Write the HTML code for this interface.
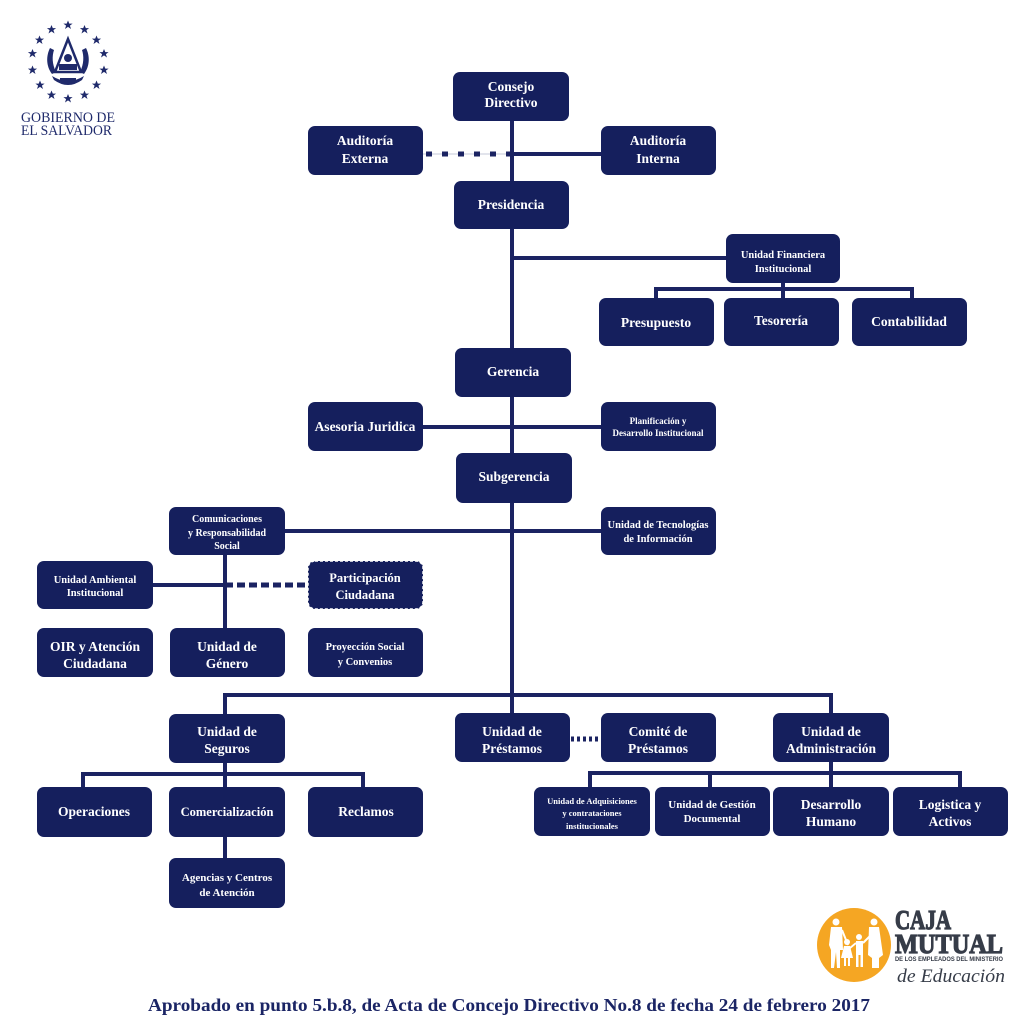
<!DOCTYPE html>
<html><head><meta charset="utf-8"><style>
html,body{margin:0;padding:0;background:#fff;}
svg{display:block;}
.t{font-family:"Liberation Serif",serif;font-weight:bold;fill:#fff;text-anchor:middle;}
</style></head><body>
<svg width="1024" height="1024" viewBox="0 0 1024 1024" xmlns="http://www.w3.org/2000/svg">
<rect width="1024" height="1024" fill="#fff"/>

<!-- connectors -->
<g stroke="#1b2362" stroke-width="4" fill="none">
  <line x1="512" y1="121" x2="512" y2="715"/>
  <line x1="512" y1="154" x2="601" y2="154"/>
  <line x1="512" y1="258" x2="726" y2="258"/>
  <polyline points="656,298 656,289 912,289 912,298"/>
  <line x1="783" y1="283" x2="783" y2="298"/>
  <line x1="423" y1="427" x2="601" y2="427"/>
  <line x1="285" y1="531" x2="601" y2="531"/>
  <line x1="225" y1="555" x2="225" y2="628"/>
  <line x1="153" y1="585" x2="225" y2="585"/>
  <polyline points="225,714 225,695 831,695 831,713"/>
  <line x1="225" y1="763" x2="225" y2="787"/>
  <polyline points="83,787 83,774 363,774 363,787"/>
  <line x1="225" y1="836" x2="225" y2="858"/>
  <line x1="831" y1="762" x2="831" y2="787"/>
  <polyline points="590,787 590,773 960,773 960,787"/>
  <line x1="710" y1="773" x2="710" y2="787"/>
</g>
<line x1="423" y1="154" x2="512" y2="154" stroke="#c5c8da" stroke-width="1"/>
<line x1="426" y1="154" x2="512" y2="154" stroke="#1b2362" stroke-width="5" stroke-dasharray="6 10"/>
<line x1="225" y1="585" x2="308" y2="585" stroke="#1b2362" stroke-width="5" stroke-dasharray="8 4"/>
<line x1="571" y1="739" x2="601" y2="739" stroke="#1b2362" stroke-width="5" stroke-dasharray="3 3"/>

<!-- boxes -->
<g fill="#151f5d">
  <rect x="453" y="72" width="116" height="49" rx="7"/>
  <rect x="308" y="126" width="115" height="49" rx="7"/>
  <rect x="601" y="126" width="115" height="49" rx="7"/>
  <rect x="454" y="181" width="115" height="48" rx="7"/>
  <rect x="726" y="234" width="114" height="49" rx="7"/>
  <rect x="599" y="298" width="115" height="48" rx="7"/>
  <rect x="724" y="298" width="115" height="48" rx="7"/>
  <rect x="852" y="298" width="115" height="48" rx="7"/>
  <rect x="455" y="348" width="116" height="49" rx="7"/>
  <rect x="308" y="402" width="115" height="49" rx="7"/>
  <rect x="601" y="402" width="115" height="49" rx="7"/>
  <rect x="456" y="453" width="116" height="50" rx="7"/>
  <rect x="169" y="507" width="116" height="48" rx="7"/>
  <rect x="601" y="507" width="115" height="48" rx="7"/>
  <rect x="37" y="561" width="116" height="48" rx="7"/>
  <rect x="308" y="561" width="115" height="48" rx="7"/>
  <rect x="37" y="628" width="116" height="49" rx="7"/>
  <rect x="170" y="628" width="115" height="49" rx="7"/>
  <rect x="308" y="628" width="115" height="49" rx="7"/>
  <rect x="169" y="714" width="116" height="49" rx="7"/>
  <rect x="455" y="713" width="115" height="49" rx="7"/>
  <rect x="601" y="713" width="115" height="49" rx="7"/>
  <rect x="773" y="713" width="116" height="49" rx="7"/>
  <rect x="37" y="787" width="115" height="50" rx="7"/>
  <rect x="169" y="787" width="116" height="50" rx="7"/>
  <rect x="308" y="787" width="115" height="50" rx="7"/>
  <rect x="169" y="858" width="116" height="50" rx="7"/>
  <rect x="534" y="787" width="116" height="49" rx="7"/>
  <rect x="655" y="787" width="115" height="49" rx="7"/>
  <rect x="773" y="787" width="116" height="49" rx="7"/>
  <rect x="893" y="787" width="115" height="49" rx="7"/>
</g>
<rect x="308" y="561" width="115" height="48" rx="7" fill="none" stroke="#fff" stroke-width="1.5" stroke-dasharray="3 2"/>

<!-- labels -->
<g class="t" font-size="13.5">
  <text x="511" y="91">Consejo</text><text x="511" y="107">Directivo</text>
  <text x="365" y="145">Auditoría</text><text x="365" y="163">Externa</text>
  <text x="658" y="145">Auditoría</text><text x="658" y="163">Interna</text>
  <text x="511" y="209">Presidencia</text>
  <text x="656" y="327">Presupuesto</text>
  <text x="781" y="325">Tesorería</text>
  <text x="909" y="326">Contabilidad</text>
  <text x="513" y="376">Gerencia</text>
  <text x="365" y="431">Asesoria Juridica</text>
  <text x="514" y="481">Subgerencia</text>
  <text x="95" y="651">OIR y Atención</text><text x="95" y="668">Ciudadana</text>
  <text x="227" y="651">Unidad de</text><text x="227" y="668">Género</text>
  <text x="227" y="736">Unidad de</text><text x="227" y="753">Seguros</text>
  <text x="512" y="736">Unidad de</text><text x="512" y="753">Préstamos</text>
  <text x="658" y="736">Comité de</text><text x="658" y="753">Préstamos</text>
  <text x="831" y="736">Unidad de</text><text x="831" y="753">Administración</text>
  <text x="94" y="816">Operaciones</text>
  <text x="366" y="816">Reclamos</text>
  <text x="831" y="809">Desarrollo</text><text x="831" y="826">Humano</text>
  <text x="950" y="809">Logistica y</text><text x="950" y="826">Activos</text>
</g>
<g class="t" font-size="12.5">
  <text x="227" y="816">Comercialización</text>
  <text x="365" y="582">Participación</text><text x="365" y="599">Ciudadana</text>
</g>
<g class="t" font-size="10.5">
  <text x="783" y="258">Unidad Financiera</text><text x="783" y="272">Institucional</text>
  <text x="658" y="528">Unidad de Tecnologías</text><text x="658" y="542">de Información</text>
  <text x="95" y="583">Unidad Ambiental</text><text x="95" y="596">Institucional</text>
  <text x="365" y="650">Proyección Social</text><text x="365" y="665">y Convenios</text>
</g>
<g class="t" font-size="10">
  <text x="227" y="522">Comunicaciones</text><text x="227" y="536">y Responsabilidad</text><text x="227" y="549">Social</text>
</g>
<g class="t" font-size="11">
  <text x="227" y="881">Agencias y Centros</text><text x="227" y="896">de Atención</text>
  <text x="712" y="808">Unidad de Gestión</text><text x="712" y="822">Documental</text>
</g>
<g class="t" font-size="9">
  <text x="658" y="424">Planificación y</text><text x="658" y="436">Desarrollo Institucional</text>
</g>
<g class="t" font-size="8.5">
  <text x="592" y="804">Unidad de Adquisiciones</text><text x="592" y="816">y contrataciones</text><text x="592" y="829">institucionales</text>
</g>

<!-- Gobierno logo -->
<defs>
  <polygon id="st" points="0,-4.5 1.3,-1.4 4.6,-1.4 1.9,0.6 3,4 0,1.9 -3,4 -1.9,0.6 -4.6,-1.4 -1.3,-1.4"/>
</defs>
<g fill="#1f2a6b">
  <use href="#st" x="68" y="25"/>
  <use href="#st" x="51.5" y="29.5"/>
  <use href="#st" x="84.5" y="29.5"/>
  <use href="#st" x="39.5" y="40"/>
  <use href="#st" x="96.5" y="40"/>
  <use href="#st" x="32.5" y="53.5"/>
  <use href="#st" x="104" y="53.5"/>
  <use href="#st" x="32.5" y="70"/>
  <use href="#st" x="104" y="70"/>
  <use href="#st" x="40" y="85"/>
  <use href="#st" x="96.5" y="85"/>
  <use href="#st" x="51.5" y="95"/>
  <use href="#st" x="84.5" y="95"/>
  <use href="#st" x="68" y="98.5"/>
  <!-- emblem -->
  <polygon points="68,39 55,72 81,72" fill="none" stroke="#1f2a6b" stroke-width="2.5"/>
  <circle cx="68" cy="58" r="4"/>
  <rect x="59" y="64" width="18" height="6"/>
  <path d="M50,48 C46,56 46,66 52,74 L56,72 C52,64 52,56 54,50 Z"/>
  <path d="M86,48 C90,56 90,66 84,74 L80,72 C84,64 84,56 82,50 Z"/>
  <path d="M52,76 Q68,86 84,76 L82,80 Q68,90 54,80 Z"/>
  <rect x="60" y="78" width="16" height="5"/>
</g>
<g font-family="Liberation Serif,serif" fill="#1f2a6b" font-size="14.5">
  <text x="21" y="122" textLength="94" lengthAdjust="spacingAndGlyphs">GOBIERNO DE</text>
  <text x="21" y="135" textLength="91" lengthAdjust="spacingAndGlyphs">EL SALVADOR</text>
</g>

<!-- Caja Mutual logo -->
<circle cx="854" cy="945" r="37" fill="#f5a623"/>
<g fill="#fff">
  <circle cx="836" cy="922" r="3.5"/>
  <path d="M831,927 L842,927 L843,950 L840,950 L840,968 L837,968 L836,952 L834,968 L831,968 L831,950 L829,945 Z"/>
  <line x1="842" y1="930" x2="848" y2="945" stroke="#fff" stroke-width="2"/>
  <circle cx="847" cy="942" r="3"/>
  <path d="M844,946 L850,946 L853,958 L841,958 Z"/>
  <rect x="844" y="958" width="2" height="8"/><rect x="848" y="958" width="2" height="8"/>
  <circle cx="859" cy="937" r="3"/>
  <rect x="856" y="941" width="7" height="14"/>
  <rect x="856" y="955" width="2.5" height="12"/><rect x="860.5" y="955" width="2.5" height="12"/>
  <line x1="850" y1="948" x2="856" y2="943" stroke="#fff" stroke-width="1.8"/>
  <line x1="863" y1="943" x2="872" y2="934" stroke="#fff" stroke-width="2"/>
  <circle cx="874" cy="922" r="3.5"/>
  <path d="M869,927 L879,927 L883,955 L879,958 L879,968 L872,968 L872,958 L868,955 Z"/>
</g>
<g font-family="Liberation Serif,serif" font-weight="bold" fill="#363c48" stroke="#363c48" stroke-width="1.2">
  <text x="895" y="929" font-size="27" textLength="56" lengthAdjust="spacingAndGlyphs">CAJA</text>
  <text x="895" y="953" font-size="27" textLength="108" lengthAdjust="spacingAndGlyphs">MUTUAL</text>
</g>
<text x="895" y="961" font-family="Liberation Sans,sans-serif" font-weight="bold" font-size="6" fill="#363c48" textLength="108" lengthAdjust="spacingAndGlyphs">DE LOS EMPLEADOS DEL MINISTERIO</text>
<text x="897" y="982" font-family="Liberation Serif,serif" font-style="italic" font-size="19" fill="#363c48" textLength="108" lengthAdjust="spacingAndGlyphs">de Educación</text>

<!-- caption -->
<text x="148" y="1011" font-family="Liberation Serif,serif" font-weight="bold" font-size="17.5" fill="#1b2565" textLength="722" lengthAdjust="spacingAndGlyphs">Aprobado en punto 5.b.8, de Acta de Concejo Directivo No.8 de fecha 24 de febrero 2017</text>
</svg>
</body></html>
